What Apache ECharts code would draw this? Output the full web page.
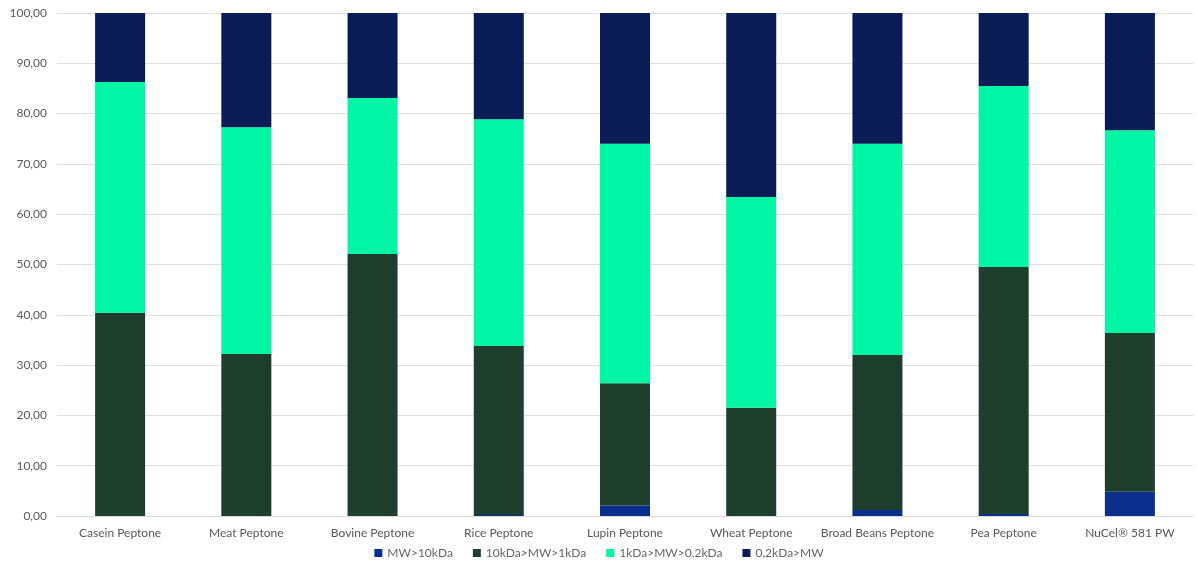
<!DOCTYPE html>
<html><head><meta charset="utf-8">
<script src="https://cdn.jsdelivr.net/npm/echarts@6/dist/echarts.min.js"></script>
<style>html,body{margin:0;padding:0;background:#fff}#c{width:1198px;height:565px}</style>
</head><body><div id="c"></div>
<script>
const categories = ["Casein Peptone","Meat Peptone","Bovine Peptone","Rice Peptone","Lupin Peptone","Wheat Peptone","Broad Beans Peptone","Pea Peptone","NuCel® 581 PW"];
const seriesNames = ["MW>10kDa","10kDa>MW>1kDa","1kDa>MW>0,2kDa","0,2kDa>MW"];
const mwOver10 = [0, 0, 0, 0.2, 2.1, 0, 1.2, 0.4, 4.8];
const mw10to1 = [40.4, 32.2, 52.1, 33.6, 24.3, 21.5, 30.8, 49.1, 31.6];
const mw1to02 = [45.9, 45.1, 31.0, 45.1, 47.6, 41.9, 42.0, 36.0, 40.3];
const mwUnder02 = [13.7, 22.7, 16.9, 21.1, 26.0, 36.6, 26.0, 14.5, 23.3];
const colors = ["#0a2f8c","#1f3f2e","#00f5a5","#0a1c55"];
const data = [mwOver10, mw10to1, mw1to02, mwUnder02];
const chart = echarts.init(document.getElementById('c'));
chart.setOption({
  animation:false,
  textStyle:{fontFamily:'Lato'},
  grid:{left:57,right:5,top:13,bottom:49},
  legend:{bottom:1,left:'center',itemWidth:8,itemHeight:8,itemGap:20,icon:'rect',
    textStyle:{color:'#666666',fontSize:12,fontFamily:'Lato'},data:seriesNames},
  xAxis:{type:'category',data:categories,
    axisLine:{lineStyle:{color:'#d9d9d9'}},axisTick:{show:false},
    axisLabel:{color:'#595959',fontSize:12,margin:11,interval:0}},
  yAxis:{type:'value',min:0,max:100,interval:10,
    axisLine:{show:false},axisTick:{show:false},
    splitLine:{lineStyle:{color:'#e0e0e0'}},
    axisLabel:{color:'#595959',fontSize:12,margin:10,formatter:v=>v.toFixed(2).replace('.',',')}},
  series: seriesNames.map((n,i)=>({name:n,type:'bar',stack:'t',barWidth:50,data:data[i],itemStyle:{color:colors[i]}}))
});
</script></body></html>
